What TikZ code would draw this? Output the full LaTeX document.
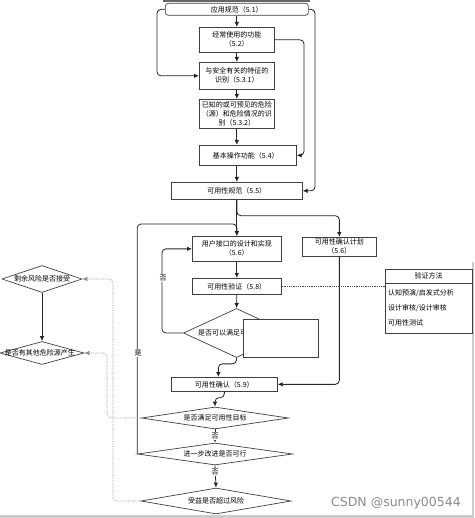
\documentclass[tikz,border=0pt]{standalone}
\usepackage{fontspec}
\setmainfont{Noto Sans CJK SC}
\newfontfamily\wmfont{DejaVu Sans}
\usetikzlibrary{shapes.geometric,arrows.meta,calc}
\begin{document}
\begin{tikzpicture}[x=1pt,y=-1pt,
  font=\fontsize{7}{9}\selectfont,
  box/.style={draw=black!75, line width=0.7pt, fill=white, align=center, inner sep=0pt, anchor=north west},
  dia/.style={draw=black!75, line width=0.7pt, fill=white, shape=diamond, inner sep=0pt},
  arr/.style={draw=black!85, line width=0.8pt, -{Latex[length=5pt,width=4.5pt]}, rounded corners=4pt},
  dotarr/.style={draw=black!45, line width=0.7pt, densely dotted, -{Latex[length=5pt,width=4.5pt]}, rounded corners=4pt},
  lbl/.style={fill=white, inner sep=0.6pt},
  txt/.style={inner sep=0pt, align=center}
]
\useasboundingbox (0,0) rectangle (474,518);
\fill[white] (0,0) rectangle (474,518);
\fill[black!20] (0,515) rectangle (474,518);
\fill[black!20] (471.5,262) rectangle (474,515);
\fill[black!60] (163,0) rectangle (310,2.5);

% main boxes
\node[box, rounded corners=3pt, minimum width=143, minimum height=12] (A) at (165,3) {应用规范（5.1）};
\node[box, minimum width=75, minimum height=25] (B1) at (199,27) {经常使用的功能\\（5.2）};
\node[box, minimum width=75, minimum height=27] (B2) at (199,62) {与安全有关的特征的\\识别（5.3.1）};
\node[box, minimum width=75, minimum height=29] (B3) at (199,99) {已知的或可预见的危险\\（源）和危险情况的识\\别（5.3.2）};
\node[box, minimum width=97, minimum height=20] (D) at (199,145) {\hspace*{-4pt}基本操作功能（5.4）};
\node[box, minimum width=131, minimum height=17] (E) at (171,182) {可用性规范（5.5）};
\node[box, minimum width=89, minimum height=25] (F) at (192,236) {用户接口的设计和实现\\（5.6）};
\node[box, minimum width=74, minimum height=19] (G) at (302,237) {可用性确认计划\\（5.6）};
\node[box, minimum width=89, minimum height=16] (H) at (192,278) {可用性验证（5.8）};

\node[dia, minimum width=106, minimum height=49] (I) at (236.5,333) {};
\node[txt] (It) at (I.center) {是否可以满足可用性要求};
\node[box, minimum width=75, minimum height=38] (W) at (243,319) {};

\node[box, minimum width=106, minimum height=14] (J) at (171,377) {可用性确认（5.9）};
\node[dia, minimum width=147, minimum height=22] (K) at (215,418) {};
\node[txt] (Kt) at (K.center) {是否满足可用性目标};
\node[dia, minimum width=155, minimum height=22] (L) at (215,454) {};
\node[txt] (Lt) at (L.center) {进一步改进是否可行};
\node[dia, minimum width=150, minimum height=26] (M) at (216,501) {};
\node[txt] (Mt) at (M.center) {受益是否超过风险};

\node[dia, minimum width=80, minimum height=27] (N) at (42,279) {};
\node[txt] (Nt) at (N.center) {剩余风险是否接受};
\node[dia, minimum width=84, minimum height=23] (O) at (42,353) {};
\node[txt] (Ot) at (40,353) {是否有其他危险源产生};

% table
\node[box, minimum width=87, minimum height=64] (T) at (385,269) {};
\draw[black!75, line width=0.7pt] ([yshift=-14pt]T.north west) -- ([yshift=-14pt]T.north east);
\node[txt] (Th) at (428.5,276) {验证方法};
\node[txt, anchor=west] (T1) at (388,293) {认知预演/启发式分析};
\node[txt, anchor=west] (T2) at (388,308) {设计审核/设计审核};
\node[txt, anchor=west] (T3) at (388,323) {可用性测试};

% connectors
\draw[arr] (A.south) -- (B1.north);
\draw[arr] (B1.south) -- (B2.north);
\draw[arr] (B2.south) -- (B3.north);
\draw[arr] (B3.south) -- (B3.south |- D.north);
\draw[arr] (B3.south |- D.south) -- (E.north);
\draw[arr] (A.west) -| (157,40) |- (B2.west);
\draw[arr] (A.east) -| (315,100) |- (E.east);
\draw[arr] (B1.east) -| (304,100) |- (D.east);
\draw[arr] (E.south) -- (F.north);
\draw[arr] (E.south) -- ++(0,16) -| (G.north);
\draw[arr] (F.south) -- (H.north);
\draw[arr] (H.south) -- (I.north);
\draw[arr] (L.west) |- ($(F.north)+(0,-12)$) -- (F.north);
\node[lbl] (yes1) at (138,353) {是};
\draw[arr] (I.west) -| (162,300) |- (F.west);
\node[lbl] (no1) at (163,278) {否};
\draw[arr] (I.south) -- ++(0,6) -| ([xshift=-6pt]J.north);
\draw[arr] (G.south) |- (J.east);
\draw[arr] (J.south) -- ++(0,6) -| (K.north);
\draw[arr] (K.south) -- (L.north);
\node[lbl] (no2) at (215,436) {否};
\draw[arr] (L.south) -- (M.north);
\node[lbl] (no3) at (215,472) {否};
\draw[arr] (N.south) -- (O.north);
\draw[dotarr] (K.west) -| (107,380) |- (O.east);
\draw[dotarr] (M.west) -| (113,400) |- (N.east);
\draw[black!70, line width=0.8pt, densely dotted] (H.east) -- (H.east -| T.west);

\node[anchor=west, inner sep=0pt, text=black!45, font=\wmfont\fontsize{12.5}{14}\selectfont] (wm) at (331,503) {CSDN @sunny00544};
\end{tikzpicture}
\end{document}
